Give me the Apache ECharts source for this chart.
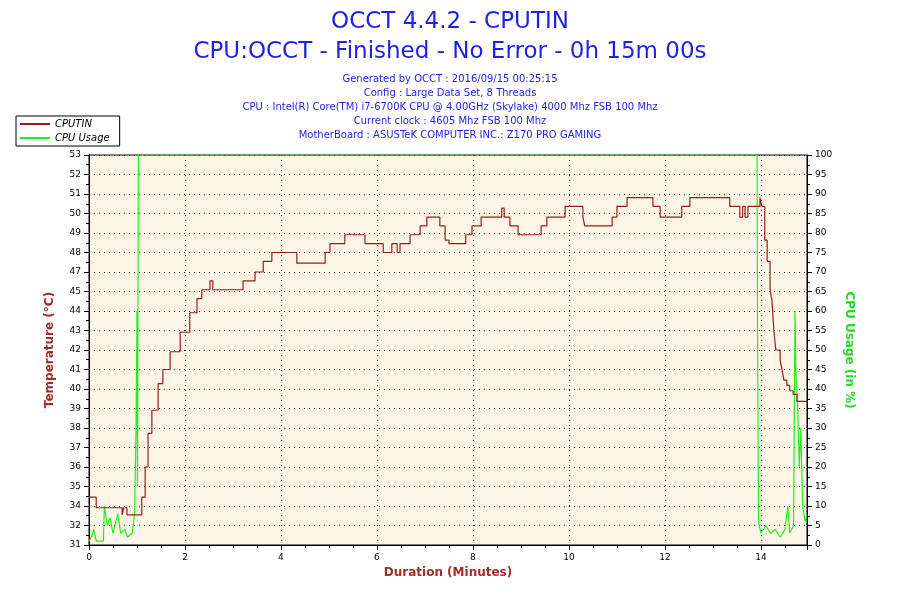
<!DOCTYPE html>
<html><head><meta charset="utf-8">
<script src="https://cdn.jsdelivr.net/npm/echarts@6/dist/echarts.min.js"></script>
<style>html,body{margin:0;background:#fff}#c{width:900px;height:600px}</style>
</head><body><div id="c"></div>
<script>
var tempTimes=[0,0.15,0.69,0.72,0.79,1.10,1.17,1.23,1.31,1.44,1.54,1.69,1.90,2.10,2.25,2.35,2.52,2.58,3.21,3.46,3.63,3.81,4.33,4.92,5.02,5.33,5.75,6.13,6.31,6.42,6.48,6.69,6.90,7.04,7.31,7.42,7.50,7.85,7.98,8.17,8.60,8.65,8.77,8.94,9.42,9.54,9.92,10.29,10.33,10.90,11.00,11.21,11.75,11.90,12.35,12.52,13.35,13.56,13.62,13.67,13.73,13.98,14.02,14.08,14.13,14.19,14.23,14.27,14.31,14.40,14.44,14.48,14.54,14.60,14.67,14.75,14.96];
var tempValues=[33.7,33.1,32.7,33.1,32.7,33.7,35.4,37.3,38.6,40.1,40.9,41.9,43.0,44.1,44.9,45.4,45.9,45.4,45.9,46.4,47.0,47.5,46.9,47.5,48.0,48.5,48.0,47.5,48.0,47.5,48.0,48.5,49.0,49.5,49.0,48.2,48.0,48.5,49.0,49.5,50.0,49.5,49.0,48.5,49.0,49.5,50.1,49.5,49.0,49.5,50.1,50.6,50.1,49.5,50.1,50.6,50.1,49.5,50.1,49.5,50.1,50.6,50.1,48.2,47.0,45.4,44.8,43.1,42.0,41.4,40.9,40.3,40.0,39.7,39.5,39.1,39.1];
var cpuTimes=[0,0.05,0.1,0.15,0.3,0.32,0.38,0.44,0.5,0.6,0.66,0.75,0.8,0.9,0.95,0.98,1.0,1.01,1.02,1.03,13.92,13.93,13.95,14.0,14.1,14.2,14.3,14.4,14.5,14.56,14.6,14.68,14.71,14.73,14.76,14.8,14.83,14.87,14.92,14.96];
var cpuValues=[1,2,4,1,1,10,5,7,3,8,3,4,2,3,8,30,60,15,62,100,100,53,6,3,5,3,4,2,4,10,3,5,60,43,38,20,30,10,6,8];
var tempLabels=['31','32','34','35','36','37','38','39','40','41','42','43','44','45','47','48','49','50','51','52','53'];
var infoLines=['Generated by OCCT : 2016/09/15 00:25:15','Config : Large Data Set, 8 Threads','CPU : Intel(R) Core(TM) i7-6700K CPU @ 4.00GHz (Skylake) 4000 Mhz FSB 100 Mhz','Current clock : 4605 Mhz FSB 100 Mhz','MotherBoard : ASUSTeK COMPUTER INC.: Z170 PRO GAMING'];

var tData=tempTimes.map(function(t,i){return [t,tempValues[i]];});
var cData=cpuTimes.map(function(t,i){return [t,cpuValues[i]];});
var F='DejaVu Sans';
var blue='#1f1fe6';
var titles=[{text:'OCCT 4.4.2 - CPUTIN',left:'center',top:6,textStyle:{fontFamily:F,fontSize:23,fontWeight:'normal',color:blue}},
 {text:'CPU:OCCT - Finished - No Error - 0h 15m 00s',left:'center',top:36,textStyle:{fontFamily:F,fontSize:23,fontWeight:'normal',color:blue}}];
infoLines.forEach(function(s,i){titles.push({text:s,left:'center',top:69+i*14,textStyle:{fontFamily:F,fontSize:10,fontWeight:'normal',color:blue}});});
var ch=echarts.init(document.getElementById('c'));
ch.setOption({
 backgroundColor:'#fff',animation:false,title:titles,
 legend:{orient:'vertical',left:16,top:116,itemGap:4,itemWidth:30,itemHeight:2,icon:'rect',borderColor:'#000',borderWidth:1,padding:[3,10,3,4],
   textStyle:{fontFamily:F,fontSize:10,fontStyle:'italic',color:'#000'},data:['CPUTIN','CPU Usage']},
 grid:{left:89,right:93,top:155,bottom:55,show:true,backgroundColor:'#fdf6e7',borderColor:'#000',borderWidth:1},
 xAxis:{type:'value',min:0,max:14.96,interval:2,name:'Duration (Minutes)',nameLocation:'middle',nameGap:22,
   nameTextStyle:{fontFamily:F,fontSize:12,fontWeight:'bold',color:'#a52a2a'},
   axisLine:{lineStyle:{color:'#000'}},axisTick:{length:5,lineStyle:{color:'#000'}},minorTick:{show:true,splitNumber:4,length:3,lineStyle:{color:'#000'}},
   axisLabel:{fontFamily:F,fontSize:9,color:'#000',formatter:function(v){return v%2===0?String(v):'';}},
   splitLine:{show:true,lineStyle:{color:'#000',type:[1,4]}}},
 yAxis:[{type:'value',min:31,max:53,interval:1.1,name:'Temperature (°C)',nameLocation:'middle',nameGap:33,
   nameTextStyle:{fontFamily:F,fontSize:12,fontWeight:'bold',color:'#a52a2a'},
   axisLine:{show:true,lineStyle:{color:'#000'}},axisTick:{show:true,length:5,lineStyle:{color:'#000'}},minorTick:{show:true,splitNumber:2,length:3,lineStyle:{color:'#000'}},
   axisLabel:{fontFamily:F,fontSize:9,color:'#000',formatter:function(v){return tempLabels[Math.round((v-31)/1.1)]||'';}},
   splitLine:{show:true,lineStyle:{color:'#000',type:[1,4]}}},
  {type:'value',min:0,max:100,interval:5,name:'CPU Usage (in %)',nameLocation:'middle',nameGap:32,nameRotate:-90,
   nameTextStyle:{fontFamily:F,fontSize:12,fontWeight:'bold',color:'#22dd22'},
   axisLine:{show:true,lineStyle:{color:'#000'}},axisTick:{show:true,length:5,lineStyle:{color:'#000'}},minorTick:{show:true,splitNumber:2,length:3,lineStyle:{color:'#000'}},
   axisLabel:{fontFamily:F,fontSize:9,color:'#000'},splitLine:{show:false}}],
 series:[
  {name:'CPU Usage',type:'line',yAxisIndex:1,data:cData,showSymbol:false,lineStyle:{color:'#22ee22',width:1.2},itemStyle:{color:'#22ee22'},z:2},
  {name:'CPUTIN',type:'line',yAxisIndex:0,step:'end',data:tData,showSymbol:false,lineStyle:{color:'#9b1b1b',width:1.2},itemStyle:{color:'#9b1b1b'},z:3}
 ]});
</script></body></html>
